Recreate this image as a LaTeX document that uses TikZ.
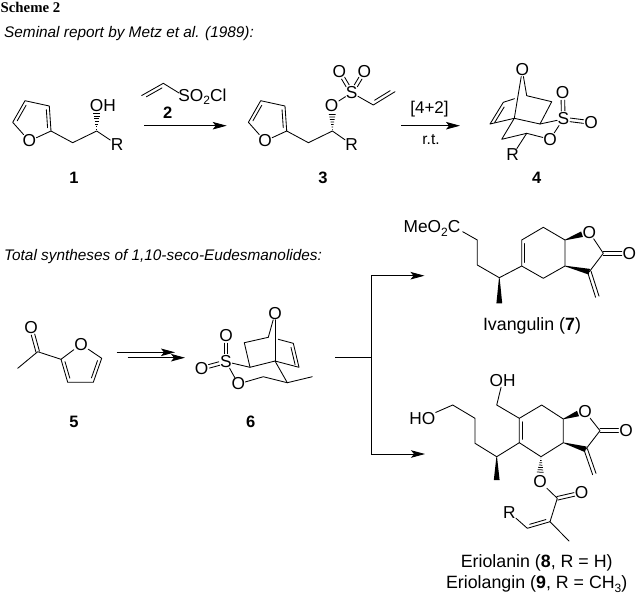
\documentclass[tikz,border=0pt]{standalone}
\usepackage{fontspec}
\setmainfont{Liberation Sans}
\newfontfamily\serifhead{Liberation Serif}
\usetikzlibrary{calc,arrows.meta}
\newcommand\subs[1]{\raisebox{-.22em}{\fontsize{12}{12}\selectfont #1}}
\newcommand\dblin[3]{\draw[bondline] ($(#1)!.14!(#2)!#3!90:(#2)$) -- ($(#2)!.14!(#1)!#3!-90:(#1)$);}
\newcommand\dblsym[4]{%
  \draw[bondline,shorten <=#3,shorten >=#4] ($(#1)!1.8pt!90:(#2)$) -- ($(#2)!1.8pt!-90:(#1)$);
  \draw[bondline,shorten <=#3,shorten >=#4] ($(#1)!1.8pt!-90:(#2)$) -- ($(#2)!1.8pt!90:(#1)$);}
\newcommand\wedgebond[2]{\fill ($(#1)!.3pt!90:(#2)$) -- ($(#2)!2.9pt!-90:(#1)$) -- ($(#2)!2.9pt!90:(#1)$) -- ($(#1)!.3pt!-90:(#2)$) -- cycle;}
\newcommand\hashbond[3]{\foreach \t in {#3}{\pgfmathsetmacro\w{\t*#2}%
  \draw[line width=.75pt] ($(#1)!\t!(HASHEND)!\w pt!90:(HASHEND)$) -- ($(#1)!\t!(HASHEND)!\w pt!-90:(HASHEND)$);}}
\tikzset{
  bondline/.style={line width=.85pt,line cap=round,line join=round},
  atom/.style={font=\fontsize{17.3}{18}\selectfont,inner sep=.2pt},
  captxt/.style={font=\fontsize{17.8}{20}\selectfont,inner sep=0pt,align=center},
  num/.style={font=\fontsize{16.5}{18}\selectfont\bfseries,inner sep=0pt},
  note/.style={font=\fontsize{15.35}{16}\selectfont\itshape,inner sep=0pt,anchor=west},
  rxn/.style={line width=.85pt,-{Stealth[length=14pt,width=7.5pt,inset=3pt]}},
  elbow/.style={line width=.85pt}
}
\begin{document}
\begin{tikzpicture}[x=1pt,y=-1pt]
\useasboundingbox (0,0) rectangle (636,595);
\node[font=\fontsize{14.8}{16}\selectfont\serifhead\bfseries,inner sep=0pt,anchor=west] (head) at (.5,7) {Scheme 2};
\node[note] (seminal) at (4,33.5) {Seminal report by Metz et al. (1989):};
\node[note] (total) at (4,257) {Total syntheses of 1,10-seco-Eudesmanolides:};

% compound 1
\node[atom] (aO) at (29.3,141) {O};
\coordinate (a2) at (51,131); \coordinate (a3) at (49.3,106); \coordinate (a4) at (25,100.7); \coordinate (a5) at (12.7,122.3);
\coordinate (a6) at (72.7,142.7); \coordinate (a7) at (96.7,131);
\node[atom,anchor=west] (aOH) at (89.5,105.7) {OH};
\node[atom] (aR) at (117,144.5) {R};
\draw[bondline] (aO) -- (a2) -- (a3) -- (a4) -- (a5) -- (aO);
\dblin{a2}{a3}{3.2pt} \dblin{a4}{a5}{3.2pt}
\draw[bondline] (a2) -- (a6) -- (a7) -- (aR);
\coordinate (HASHEND) at (96.7,112);
\hashbond{a7}{3.6}{.08,.22,.36,.5,.64,.78,.92}
\node[num] (n1) at (74,178) {1};

% reagent 2
\coordinate (b1) at (141.7,95.5); \coordinate (b2) at (163.3,83.3);
\node[atom,anchor=west] (bS) at (178,96.7) {SO\subs{2}Cl};
\draw[bondline] (b1) -- (b2) -- (179,93);
\dblin{b1}{b2}{-3.4pt}
\node[num] (n2) at (167.7,113) {2};
\coordinate (r1s) at (144,125.7); \coordinate (r1e) at (226.7,125.7);
\draw[rxn] (r1s) -- (r1e);

% compound 3
\node[atom] (cO) at (265,141) {O};
\coordinate (c2) at (286.7,131); \coordinate (c3) at (285,106); \coordinate (c4) at (260.7,100.7); \coordinate (c5) at (248.4,122.3);
\coordinate (c6) at (308.4,142.7); \coordinate (c7) at (332.4,131);
\node[atom] (cOe) at (331.7,105.5) {O};
\node[atom] (cR) at (351.7,144.5) {R};
\node[atom] (cS) at (351.7,92.7) {S};
\node[atom] (cO1) at (339.3,71.7) {O};
\node[atom] (cO2) at (364.3,71.7) {O};
\coordinate (c8) at (373.3,105); \coordinate (c9) at (395,91.7);
\draw[bondline] (cO) -- (c2) -- (c3) -- (c4) -- (c5) -- (cO);
\dblin{c2}{c3}{3.2pt} \dblin{c4}{c5}{3.2pt}
\draw[bondline] (c2) -- (c6) -- (c7) -- (cR);
\coordinate (HASHEND) at (332.2,113);
\hashbond{c7}{3.6}{.08,.22,.36,.5,.64,.78,.92}
\draw[bondline] (cOe) -- (cS) -- (c8) -- (c9);
\dblin{c8}{c9}{3.4pt}
\dblsym{cS}{cO1}{8pt}{7.5pt}
\dblsym{cS}{cO2}{8pt}{7.5pt}
\node[num] (n3) at (323,178) {3};

% arrow 3->4
\coordinate (r2s) at (401,125.7); \coordinate (r2e) at (460,125.7);
\draw[rxn] (r2s) -- (r2e);
\node[font=\fontsize{17}{18}\selectfont,inner sep=0pt] (t42) at (429.5,109.3) {[4+2]};
\node[font=\fontsize{15.5}{16}\selectfont,inner sep=0pt] (trt) at (431,139.3) {r.t.};

% compound 4
\node[atom] (dO) at (522.3,70) {O};
\coordinate (d1) at (526.7,95.7); \coordinate (d2) at (514.3,118.3); \coordinate (d3) at (490,124); \coordinate (d4) at (503.3,102.3);
\coordinate (d5) at (514.5,98.7); \coordinate (d6) at (551.7,101.7); \coordinate (d7) at (540,124);
\node[atom] (dS) at (563.3,119) {S};
\node[atom] (dO1) at (562.7,92.7) {O};
\node[atom] (dO2) at (591,122.5) {O};
\node[atom] (dO3) at (550,139.3) {O};
\coordinate (d8) at (526.7,133.3); \coordinate (d9) at (501.7,139.3);
\node[atom] (dR) at (512.7,155) {R};
\draw[bondline] (dO) -- (d2);
\draw[bondline] (dO) -- (d1) -- (d6) -- (d7) -- (d2) -- (d3) -- (d4) -- (d5);
\dblin{d3}{d4}{-3.2pt}
\draw[bondline] (d7) -- (dS) -- (dO3) -- (d8) -- (d9) -- (d2);
\draw[bondline] (d8) -- (dR);
\dblsym{dS}{dO1}{8pt}{7.5pt}
\dblsym{dS}{dO2}{7pt}{7.5pt}
\node[num] (n4) at (536.7,178) {4};

% compound 5
\node[atom] (eO1) at (31,327.3) {O};
\coordinate (e1) at (37.7,351.7); \coordinate (e2) at (17.7,368.3); \coordinate (e3) at (61,359.3);
\node[atom] (eO) at (81,344.3) {O};
\coordinate (e5) at (101.7,358.3); \coordinate (e6) at (93.3,382.3); \coordinate (e7) at (67.7,382.3);
\draw[bondline] (e2) -- (e1) -- (e3);
\dblsym{e1}{eO1}{0pt}{7.5pt}
\draw[bondline] (eO) -- (e3) -- (e7) -- (e6) -- (e5) -- (eO);
\dblin{e3}{e7}{3.2pt} \dblin{e6}{e5}{3.2pt}
\node[num] (n5) at (74,421.7) {5};
\coordinate (r3s) at (116.7,352.3); \coordinate (r3e) at (175,352.3);
\coordinate (r4s) at (127.7,357.7); \coordinate (r4e) at (185,357.7);
\draw[rxn] (r3s) -- (r3e);
\draw[rxn] (r4s) -- (r4e);

% compound 6
\node[atom] (fO) at (275,313.3) {O};
\coordinate (f1) at (268.3,337.3); \coordinate (f2) at (244.3,342.7); \coordinate (f3) at (250,367.3);
\node[atom] (fS) at (226,361.7) {S};
\node[atom] (fO1) at (226,335.7) {O};
\node[atom] (fO2) at (201.7,368.3) {O};
\node[atom] (fO3) at (238.3,384) {O};
\coordinate (f4) at (263.3,376.7); \coordinate (f5) at (287.3,382.7); \coordinate (f6) at (312.3,376.7);
\coordinate (f7) at (275,361); \coordinate (f8) at (278.3,339.3); \coordinate (f9) at (293.3,343.3); \coordinate (f10) at (299,367.3);
\draw[bondline] (fO) -- (f7);
\draw[bondline] (fO) -- (f1) -- (f2) -- (f3) -- (f7) -- (f10) -- (f9) -- (f8);
\dblin{f9}{f10}{-3.2pt}
\draw[bondline] (f3) -- (fS) -- (fO3) -- (f4) -- (f5) -- (f6);
\draw[bondline] (f7) -- (f5);
\dblsym{fS}{fO1}{8pt}{7.5pt}
\dblsym{fS}{fO2}{7pt}{7.5pt}
\node[num] (n6) at (250.7,421.7) {6};

% fork
\coordinate (g0) at (335,357.7); \coordinate (g1) at (371.7,357.7); \coordinate (g2) at (371.7,275.7); \coordinate (g3) at (371.7,454);
\coordinate (g4) at (424.5,275.7); \coordinate (g5) at (425,454);
\draw[elbow] (g0) -- (g1);
\draw[rxn] (g1) -- (g2) -- (g4);
\draw[rxn] (g1) -- (g3) -- (g5);

% compound 7
\node[atom,anchor=east,inner sep=0pt] (hM) at (460.5,228.5) {MeO\subs{2}C};
\coordinate (h0) at (462.7,231.7); \coordinate (h1) at (477.3,240); \coordinate (h2) at (477.3,265); \coordinate (h3) at (499.3,277.7);
\coordinate (h4) at (499.3,303.3); \coordinate (h5) at (521.7,266); \coordinate (h6) at (521.7,240); \coordinate (h7) at (543.3,227.3);
\coordinate (h8) at (565,240); \coordinate (h9) at (565,266); \coordinate (h10) at (543.3,278.3);
\node[atom] (hO) at (589.3,232.3) {O};
\coordinate (h11) at (603.3,253.3);
\node[atom] (hO2) at (629.3,253.3) {O};
\coordinate (h12) at (589.3,271.7); \coordinate (h13) at (597.3,296.7);
\draw[bondline] (h0) -- (h1) -- (h2) -- (h3) -- (h5) -- (h6) -- (h7) -- (h8) -- (h9) -- (h10) -- (h5);
\dblin{h6}{h5}{3.2pt}
\wedgebond{h3}{h4}
\coordinate (h8o) at (582,234.2);
\wedgebond{h8}{h8o}
\wedgebond{h9}{h12}
\draw[bondline] (hO) -- (h11) -- (h12);
\dblsym{h11}{hO2}{0pt}{7.5pt}
\dblsym{h12}{h13}{0pt}{0pt}
\node[captxt] (tiv) at (532,326) {Ivangulin (\textbf{7})};

% compound 8
\node[atom] (kOH) at (502.7,380.7) {OH};
\coordinate (k1) at (496.7,405); \coordinate (k2) at (519.3,418.3); \coordinate (k3) at (519.3,442.7);
\coordinate (k4) at (541.7,405); \coordinate (k5) at (563.3,419); \coordinate (k6) at (563.3,442.7); \coordinate (k7) at (541,456.7);
\node[atom] (kO) at (585,411.7) {O};
\coordinate (k8) at (600,430.7);
\node[atom] (kO2) at (626,430.7) {O};
\coordinate (k9) at (585.7,449.3); \coordinate (k10) at (594.3,474);
\node[atom] (kOe) at (540,481.7) {O};
\coordinate (k11) at (557.3,498.3);
\node[atom] (kO3) at (581.7,492.7) {O};
\coordinate (k12) at (550,521.7); \coordinate (k13) at (527.3,528.3);
\node[atom] (kR) at (509.3,512.3) {R};
\coordinate (k14) at (569,541);
\coordinate (k15) at (496.7,456.7); \coordinate (k16) at (496.7,480); \coordinate (k17) at (475,443.3); \coordinate (k18) at (475,418.3); \coordinate (k19) at (452.7,405);
\node[atom] (kHO) at (422.3,418.3) {HO};
\draw[bondline] (kOH) -- (k1) -- (k2) -- (k3) -- (k7) -- (k6) -- (k5) -- (k4) -- (k2);
\dblin{k2}{k3}{3.2pt}
\coordinate (k5o) at (578,413.5);
\wedgebond{k5}{k5o}
\wedgebond{k6}{k9}
\draw[bondline] (kO) -- (k8) -- (k9);
\dblsym{k8}{kO2}{0pt}{7.5pt}
\dblsym{k9}{k10}{0pt}{0pt}
\coordinate (HASHEND) at (540.2,473.5);
\hashbond{k7}{3.6}{.08,.22,.36,.5,.64,.78,.92}
\draw[bondline] (kOe) -- (k11) -- (k12) -- (k13) -- (kR);
\dblsym{k11}{kO3}{0pt}{7.5pt}
\dblin{k13}{k12}{3.2pt}
\draw[bondline] (k12) -- (k14);
\draw[bondline] (k3) -- (k15) -- (k17) -- (k18) -- (k19) -- (kHO);
\wedgebond{k15}{k16}
\node[captxt] (t8) at (536.7,563.3) {Eriolanin (\textbf{8}, R = H)};
\node[captxt] (t9) at (536.7,584) {Eriolangin (\textbf{9}, R = CH\subs{3})};
\end{tikzpicture}
\end{document}
